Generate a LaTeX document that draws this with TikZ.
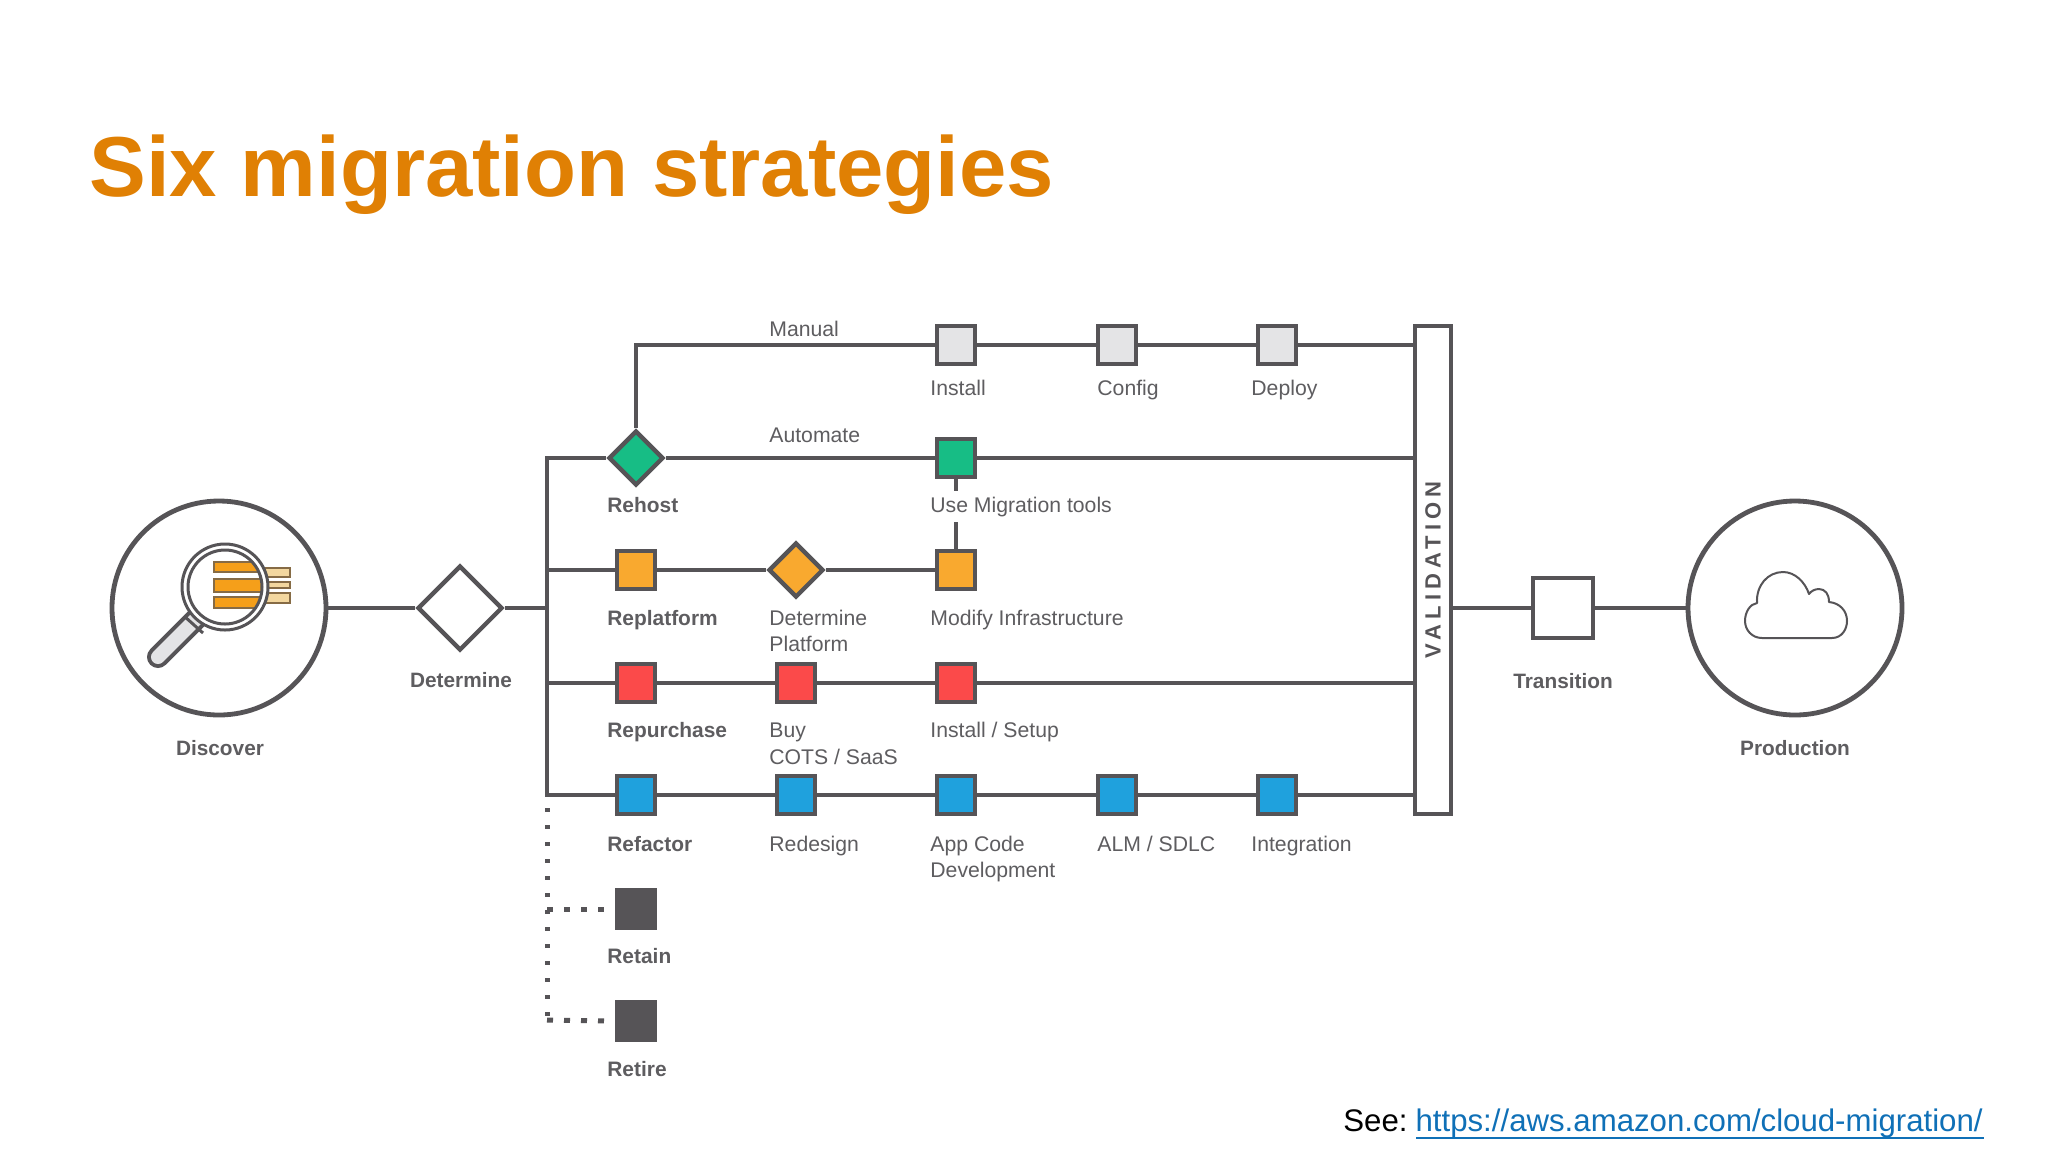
\documentclass[tikz,border=0pt]{standalone}
\usepackage{fontspec}
\usetikzlibrary{shapes.geometric,calc}
\setmainfont{Liberation Sans}
\newfontfamily\spacedfont[LetterSpace=23]{Liberation Sans}
\definecolor{ink}{HTML}{565457}
\definecolor{txt}{HTML}{5E5D60}
\definecolor{titlecol}{HTML}{E08004}
\definecolor{linkcol}{HTML}{0F70B7}
\definecolor{cgray}{HTML}{E4E4E6}
\definecolor{cgreen}{HTML}{17BD85}
\definecolor{corange}{HTML}{F9A92F}
\definecolor{cred}{HTML}{FB4A4A}
\definecolor{cblue}{HTML}{1FA1DD}
\definecolor{barorange}{HTML}{F59F1A}
\definecolor{barlight}{HTML}{F3D79F}
\tikzset{
  link/.style={draw=ink,line width=2.2pt},
  dotlink/.style={draw=ink,line width=2.5pt,dash pattern=on 2.2pt off 6.3pt},
  hdotlink/.style={draw=ink,line width=2.5pt,dash pattern=on 3pt off 5.5pt},
  sq/.style={rectangle,draw=ink,line width=2.2pt,minimum size=19pt,inner sep=0pt},
  dia/.style={diamond,draw=ink,line width=2.2pt,minimum size=27.5pt,inner sep=0pt,aspect=1},
  big/.style={circle,draw=ink,line width=2.4pt,minimum size=107pt,inner sep=0pt},
  lab/.style={anchor=base west,inner sep=0pt,text=txt,font=\fontsize{10.6}{13.5}\selectfont,align=left},
  blab/.style={anchor=base west,inner sep=0pt,text=txt,font=\fontsize{10.45}{13.5}\selectfont\bfseries},
  clab/.style={anchor=base,inner sep=0pt,text=txt,font=\fontsize{10.4}{13.5}\selectfont\bfseries},
}
\begin{document}
\begin{tikzpicture}[x=0.5pt,y=-0.5pt]
\useasboundingbox (0,0) rectangle (2048,1152);
\fill[white] (0,0) rectangle (2048,1152);

\node[anchor=base west,inner sep=0pt,text=titlecol,font=\fontsize{42.55}{50}\selectfont\bfseries] (title) at (89,196) {Six migration strategies};

% stage nodes
\node[big] (discover) at (219,608) {};
\node[big] (production) at (1795,608) {};
\node[dia,minimum size=42.5pt] (determine) at (460,608) {};
\node[sq,minimum size=30pt] (transition) at (1563,608) {};
\node[rectangle,draw=ink,line width=2.2pt,minimum width=18pt,minimum height=244pt,inner sep=0pt] (validation) at (1433,570) {};

% magnifier
\draw[ink,line width=11pt,line cap=round] (158,657) -- (197,618);
\draw[cgray,line width=7pt,line cap=round] (158,657) -- (197,618);
\draw[ink,line width=1.5pt] (184,616) -- (203,633);
\foreach \ya/\yb in {568/577,582/588,593/603}
  \draw[fill=barlight,draw=ink!70!barorange,line width=0.6pt] (258,\ya) rectangle (290,\yb);
\draw[ink,fill=white,line width=1.5pt] (225,587) circle (21.5pt);
\begin{scope}
  \clip (225,587) circle (18pt);
  \foreach \ya/\yb in {562/572,579/592,597/608}
    \draw[fill=barorange,draw=ink!70!barorange,line width=0.6pt] (214,\ya) rectangle (275,\yb);
\end{scope}
\draw[ink,line width=1.5pt] (225,587) circle (18.5pt);

% cloud
\draw[ink,line width=1pt,fill=white,line join=round]
  (1762,638) -- (1832,638)
  .. controls (1842,638) and (1847,629) .. (1847,621)
  .. controls (1847,611) and (1840,603) .. (1829,602)
  .. controls (1829,594) and (1825,589) .. (1819,589)
  .. controls (1815,589) and (1811,591) .. (1809,594)
  .. controls (1805,582) and (1795,572) .. (1783,572)
  .. controls (1768,572) and (1756,585) .. (1757,603)
  .. controls (1750,604) and (1745,612) .. (1745,621)
  .. controls (1745,630) and (1752,638) .. (1762,638) -- cycle;

% rows
\node[sq,fill=cgray] (install) at (956,345) {};
\node[sq,fill=cgray] (config) at (1117,345) {};
\node[sq,fill=cgray] (deploy) at (1277,345) {};
\node[dia,fill=cgreen] (rehost) at (636,458) {};
\node[sq,fill=cgreen] (migtools) at (956,458) {};
\node[sq,fill=corange] (replatform) at (636,570) {};
\node[dia,fill=corange] (detplat) at (796,570) {};
\node[sq,fill=corange] (modify) at (956,570) {};
\node[sq,fill=cred] (repurchase) at (636,683) {};
\node[sq,fill=cred] (buy) at (796,683) {};
\node[sq,fill=cred] (setup) at (956,683) {};
\node[sq,fill=cblue] (refactor) at (636,795) {};
\node[sq,fill=cblue] (redesign) at (796,795) {};
\node[sq,fill=cblue] (appcode) at (956,795) {};
\node[sq,fill=cblue] (alm) at (1117,795) {};
\node[sq,fill=cblue] (integration) at (1277,795) {};
\node[sq,fill=ink] (retain) at (636,909) {};
\node[sq,fill=ink] (retire) at (636,1021) {};

\coordinate (trunktop) at (547,458);
\coordinate (trunkbot) at (547,795);
\coordinate (dotbot) at (547,1020);

% connectors
\draw[link] (discover) -- (determine);
\draw[link] (determine.east) -- (determine.east -| trunktop);
\draw[link,line cap=rect] (trunktop) -- (trunkbot);
\draw[link] (trunktop) -- (rehost.west);
\draw[link] (rehost.north) -- (rehost.north |- install.west) -- (install.west);
\draw[link] (install) -- (config);
\draw[link] (config) -- (deploy);
\draw[link] (deploy.east) -- (deploy.east -| validation.west);
\draw[link] (rehost.east) -- (migtools.west);
\draw[link] (migtools.east) -- (migtools.east -| validation.west);
\draw[link] (migtools.south) -- (modify.north);
\draw[link] (replatform.west -| trunktop) -- (replatform.west);
\draw[link] (replatform.east) -- (detplat.west);
\draw[link] (detplat.east) -- (modify.west);
\draw[link] (repurchase.west -| trunktop) -- (repurchase.west);
\draw[link] (repurchase) -- (buy);
\draw[link] (buy) -- (setup);
\draw[link] (setup.east) -- (setup.east -| validation.west);
\draw[link] (trunkbot) -- (refactor.west);
\draw[link] (refactor) -- (redesign);
\draw[link] (redesign) -- (appcode);
\draw[link] (appcode) -- (alm);
\draw[link] (alm) -- (integration);
\draw[link] (integration.east) -- (integration.east -| validation.west);
\draw[link] (validation.east |- transition.west) -- (transition.west);
\draw[link] (transition) -- (production);
\draw[dotlink] ([yshift=-6.5pt]trunkbot) -- (dotbot);
\draw[hdotlink] (retain.west -| dotbot) -- (retain.west);
\draw[hdotlink] (dotbot) -- (retire.west);

% labels
\node[clab] (ldiscover) at (220,755) {Discover};
\node[clab] (ldetermine) at (461,687) {Determine};
\node[clab] (ltransition) at (1563,688) {Transition};
\node[clab] (lproduction) at (1795,755) {Production};
\node[rotate=90,inner sep=0pt,text=ink,font=\fontsize{11}{13}\selectfont\spacedfont\bfseries] (lvalidation) at (1433,570) {VALIDATION};

\node[lab] (lmanual) at (769,336) {Manual};
\node[lab] (lautomate) at (769,442) {Automate};
\node[lab] (linstall) at (930,395) {Install};
\node[lab] (lconfig) at (1097,395) {Config};
\node[lab] (ldeploy) at (1251,395) {Deploy};
\node[lab,fill=white,inner ysep=3pt] (lmig) at (930,512) {Use Migration tools};
\node[blab] (lrehost) at (607,512) {Rehost};
\node[blab] (lreplat) at (607,625) {Replatform};
\node[lab] (ldetplat) at (769,625) {Determine};
\node[lab] (ldetplatb) at (769,651) {Platform};
\node[lab] (lmodify) at (930,625) {Modify Infrastructure};
\node[blab] (lrepur) at (607,737) {Repurchase};
\node[lab] (lbuy) at (769,737) {Buy};
\node[lab] (lbuyb) at (769,764) {COTS / SaaS};
\node[lab] (lsetup) at (930,737) {Install / Setup};
\node[blab] (lrefactor) at (607,851) {Refactor};
\node[lab] (lredesign) at (769,851) {Redesign};
\node[lab] (lapp) at (930,851) {App Code};
\node[lab] (lappb) at (930,877) {Development};
\node[lab] (lalm) at (1097,851) {ALM / SDLC};
\node[lab] (lint) at (1251,851) {Integration};
\node[blab] (lretain) at (607,963) {Retain};
\node[blab] (lretire) at (607,1076) {Retire};

\node[anchor=base west,inner sep=0pt,font=\fontsize{15.6}{18}\selectfont] (see) at (1343,1131)
  {See:\hspace{4pt}\textcolor{linkcol}{https://aws.amazon.com/cloud-migration/}};
\draw[linkcol,line width=1pt] (1416,1138) -- (1984,1138);
\end{tikzpicture}
\end{document}
